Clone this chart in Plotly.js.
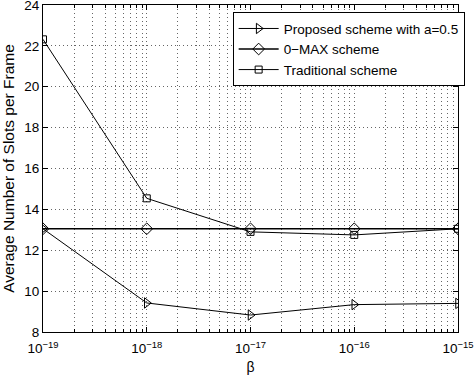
<!DOCTYPE html>
<html><head><meta charset="utf-8">
<script src="https://cdn.plot.ly/plotly-3.0.1.min.js"></script>
<style>html,body{margin:0;padding:0;background:#fff}#c{width:474px;height:375px}</style>
</head><body><div id="c"></div>
<script>
const beta = [1e-19, 1e-18, 1e-17, 1e-16, 1e-15];
const proposed = [13.05, 9.42, 8.83, 9.34, 9.40];
const zeroMax = [13.05, 13.05, 13.05, 13.05, 13.05];
const traditional = [22.32, 14.54, 12.9, 12.75, 13.05];
const xTickVals = [1e-19, 1e-18, 1e-17, 1e-16, 1e-15];
const xTickText = ['10<sup>−19</sup>', '10<sup>−18</sup>', '10<sup>−17</sup>', '10<sup>−16</sup>', '10<sup>−15</sup>'];
const yTickVals = [8, 10, 12, 14, 16, 18, 20, 22, 24];
const decades = [-19, -18, -17, -16];
const mantissas = [2, 3, 4, 5, 6, 7, 8, 9];
const minorVals = [];
decades.forEach(d => mantissas.forEach(m => minorVals.push(m * Math.pow(10, d))));

const line = {color: '#000', width: 1};
const traces = [
  {x: beta, y: proposed, name: 'Proposed scheme with a=0.5', mode: 'lines+markers', line: line,
   marker: {symbol: 'triangle-right-open', size: 9, color: '#000', line: {width: 1}}},
  {x: beta, y: zeroMax, name: '0−MAX scheme', mode: 'lines+markers', line: {color: '#000', width: 1.5},
   marker: {symbol: 'diamond-open', size: 9, color: '#000', line: {width: 1}}},
  {x: beta, y: traditional, name: 'Traditional scheme', mode: 'lines+markers', line: line,
   marker: {symbol: 'square-open', size: 7, color: '#000', line: {width: 1}}}
];
const gridCol = '#666';
const gridDash = '1px,3px';
const layout = {
  width: 474, height: 375,
  margin: {l: 43, r: 16, t: 5, b: 43},
  paper_bgcolor: '#fff', plot_bgcolor: '#fff',
  font: {family: 'Liberation Sans, Arial, sans-serif', size: 12, color: '#000'},
  showlegend: true,
  legend: {x: 0.457, y: 0.978, xanchor: 'left', yanchor: 'top', bgcolor: '#fff',
           bordercolor: '#000', borderwidth: 1, font: {size: 13.5}, tracegroupgap: 0,
           itemwidth: 40},
  xaxis: {type: 'log', range: [-19, -15], tickvals: xTickVals, ticktext: xTickText,
          ticks: 'inside', ticklen: 5, tickcolor: '#000', showline: true, linecolor: '#000',
          linewidth: 1, mirror: 'ticks', showgrid: true, gridcolor: gridCol, griddash: gridDash,
          gridwidth: 1, zeroline: false, tickfont: {size: 13.5}, ticklabelstandoff: 4,
          ticklabeloverflow: 'allow',
          title: {text: 'β', font: {size: 14}, standoff: 6},
          minor: {tickmode: 'array', tickvals: minorVals, ticks: 'inside', ticklen: 3, tickcolor: '#000',
                  showgrid: true, gridcolor: gridCol, griddash: gridDash, gridwidth: 1}},
  yaxis: {range: [8, 24], tickvals: yTickVals, ticks: 'inside', ticklen: 5, tickcolor: '#000',
          showline: true, linecolor: '#000', linewidth: 1, mirror: 'ticks', showgrid: true,
          gridcolor: gridCol, griddash: gridDash, gridwidth: 1, zeroline: false, tickfont: {size: 13.5},
          ticklabeloverflow: 'allow',
          title: {text: 'Average Number of Slots per Frame', font: {size: 15.5}, standoff: 6}}
};
Plotly.newPlot('c', traces, layout, {displayModeBar: false, staticPlot: true});
</script></body></html>
